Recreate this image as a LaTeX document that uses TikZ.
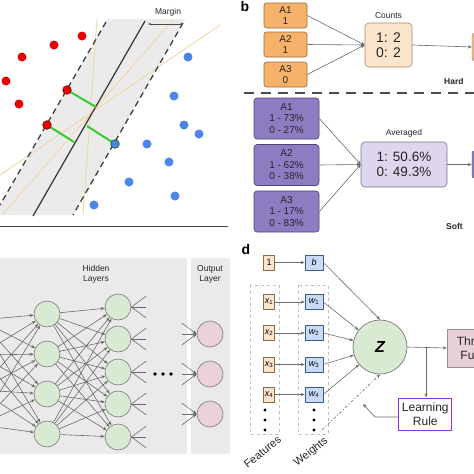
\documentclass[tikz,border=0pt]{standalone}
\usepackage{fontspec}
\setmainfont{Liberation Sans}
\usetikzlibrary{arrows.meta,calc}
\definecolor{orfill}{HTML}{F6B26B}
\definecolor{orbd}{HTML}{9C6B3C}
\definecolor{cntfill}{HTML}{FCE5CD}
\definecolor{cntbd}{HTML}{B08A66}
\definecolor{pufill}{HTML}{8E7CC3}
\definecolor{pubd}{HTML}{4F4378}
\definecolor{avfill}{HTML}{DDD6EC}
\definecolor{avbd}{HTML}{7F7596}
\definecolor{arrgray}{HTML}{6B6B6B}
\definecolor{bandgray}{HTML}{EBEBEB}
\definecolor{panelgray}{HTML}{EAEAEA}
\definecolor{hidgreen}{HTML}{D9EAD3}
\definecolor{outpink}{HTML}{EAD1DC}
\definecolor{nodegray}{HTML}{7A7A7A}
\definecolor{ffill}{HTML}{FCE5CD}
\definecolor{fbd}{HTML}{8B6A4A}
\definecolor{wfill}{HTML}{C9DAF8}
\definecolor{wbd}{HTML}{3D5A8A}
\definecolor{tffill}{HTML}{E8D0D8}
\definecolor{tfbd}{HTML}{9E8A90}
\definecolor{lrbd}{HTML}{9B30E0}
\definecolor{redpt}{HTML}{E60000}
\definecolor{bluept}{HTML}{4A86E8}
\definecolor{tanline}{HTML}{F2D8A8}
\definecolor{svgreen}{HTML}{33CC33}
\definecolor{txt}{HTML}{262626}
\tikzset{
  abox/.style={draw=orbd, fill=orfill, rounded corners=2.5pt, minimum width=43pt, minimum height=25pt, inner sep=0pt, align=center, font=\fontsize{10}{10.5}\selectfont, line width=0.6pt, text=txt},
  pbox/.style={draw=pubd, fill=pufill, rounded corners=3pt, minimum width=65pt, minimum height=41pt, inner sep=0pt, align=center, font=\fontsize{10}{11.5}\selectfont, line width=0.6pt, text=txt},
  arr/.style={draw=arrgray, line width=0.6pt, -{Stealth[length=4pt,width=3.2pt]}},
  plain/.style={draw=arrgray, line width=0.6pt},
  hid/.style={circle, draw=nodegray, fill=hidgreen, minimum size=26pt, inner sep=0pt, line width=0.6pt},
  outn/.style={circle, draw=nodegray, fill=outpink, minimum size=26pt, inner sep=0pt, line width=0.6pt},
  fbox/.style={draw=fbd, fill=ffill, minimum width=11pt, minimum height=15pt, inner sep=0pt, line width=0.6pt, font=\fontsize{9}{10}\selectfont},
  wbox/.style={draw=wbd, fill=wfill, minimum width=18pt, minimum height=15pt, inner sep=0pt, line width=0.6pt, font=\fontsize{9}{10}\selectfont},
  lbl/.style={font=\fontsize{8.5}{10}\selectfont, text=txt, align=center, inner sep=0pt},
  panel/.style={font=\bfseries\fontsize{14}{14}\selectfont, inner sep=0pt},
  reddot/.style={fill=redpt},
  bluedot/.style={fill=bluept},
}
\begin{document}
\begin{tikzpicture}[x=1pt,y=-1pt]
\useasboundingbox (0,0) rectangle (474,474);
\fill[white] (0,0) rectangle (474,474);
\begin{scope}
\clip (0,0) rectangle (474,474);
% ---------------- panel a ----------------
\fill[bandgray] (107.7,19) -- (185.3,19) -- (73,215) -- (0,215) -- (0,19) -- cycle;
\fill[white] (0,19) -- (107.7,19) -- (-5.8,215) -- (0,215) -- (0,0) -- cycle;
\draw[tanline, line width=0.9pt] (97,19) -- (83,215);
\draw[tanline, line width=0.9pt] (173,20) -- (3,214);
\draw[tanline, line width=0.9pt] (220,25) -- (0,175);
\draw[black!75, line width=1.3pt, dash pattern=on 6pt off 4pt] (106,22) -- (0,205);
\draw[black!75, line width=1.3pt, dash pattern=on 6pt off 4pt] (183,23) -- (73,215);
\draw[black!80, line width=1.2pt] (145,21) -- (33,216);
\draw[black!70, line width=0.6pt, {Stealth[length=3pt]}-{Stealth[length=3pt]}] (148,24) -- (183,24);
\node[lbl] (margin) at (168,12) {Margin};
\draw[svgreen, line width=2pt] (67,90) -- (96,107);
\draw[svgreen, line width=2pt] (47,125) -- (74,142);
\draw[svgreen, line width=2pt] (115,144) -- (87,126);
\foreach \p in {(82,36),(54,45),(22,57),(6,81),(19,104)}
  \fill[reddot] \p circle (4.5);
\foreach \p in {(67,90),(47,125)}
  \filldraw[fill=redpt, draw=red!50!black, line width=0.6pt] \p circle (4.3);
\foreach \p in {(188,57),(174,96),(184,125),(199,134),(147,144),(169,162),(129,182),(175,196),(94,205)}
  \fill[bluedot] \p circle (4.5);
\filldraw[fill=bluept, draw=green!40!black, line width=0.6pt] (115,144) circle (4.3);
\draw[black!70, line width=0.9pt] (0,226) -- (228,226);
% ---------------- panel b ----------------
\node[panel] (lb) at (245,6) {b};
\node[abox] (a1) at (285.5,15.5) {A1\\1};
\node[abox] (a2) at (285.5,44.5) {A2\\1};
\node[abox] (a3) at (285.5,74.5) {A3\\0};
\node[draw=cntbd, fill=cntfill, rounded corners=4pt, minimum width=47pt, minimum height=44pt, inner sep=0pt, align=center, font=\fontsize{14}{15}\selectfont, line width=0.6pt, text=txt] (cnt) at (388.5,45) {1: 2\\0: 2};
\node[lbl, anchor=south] (cntl) at (388.5,19) {Counts};
\draw[arr] (a1.east) -- (cnt.west);
\draw[arr] (a2.east) -- (cnt.west);
\draw[arr] (a3.east) -- (cnt.west);
\node[draw=orbd, fill=orfill!60!brown!70, rounded corners=3pt, minimum width=40pt, minimum height=28pt] (hardbox) at (492,47) {};
\draw[arr] (cnt.east) -- (hardbox.west);
\node[anchor=west, font=\bfseries\fontsize{8.5}{10}\selectfont, inner sep=0pt, text=txt] (hard) at (444,81) {Hard};
\draw[black!70, line width=1.8pt, dash pattern=on 10pt off 7pt] (244,93) -- (474,93);
\node[pbox] (p1) at (286.5,118.5) {A1\\1 - 73\%\\0 - 27\%};
\node[pbox] (p2) at (286.5,165) {A2\\1 - 62\%\\0 - 38\%};
\node[pbox] (p3) at (286.5,211.5) {A3\\1 - 17\%\\0 - 83\%};
\node[draw=avbd, fill=avfill, rounded corners=4pt, minimum width=86pt, minimum height=45pt, inner sep=0pt, align=center, font=\fontsize{13.5}{15}\selectfont, line width=0.6pt, text=txt] (avg) at (404,164.5) {1: 50.6\%\\0: 49.3\%};
\node[lbl, anchor=south] (avgl) at (404,137) {Averaged};
\draw[arr] (p1.east) -- (avg.west);
\draw[arr] (p2.east) -- (avg.west);
\draw[arr] (p3.east) -- (avg.west);
\node[draw=pubd, fill=pufill!80!gray, rounded corners=3pt, minimum width=40pt, minimum height=28pt] (softbox) at (492,164.5) {};
\draw[arr] (avg.east) -- (softbox.west);
\node[anchor=west, font=\bfseries\fontsize{8.5}{10}\selectfont, inner sep=0pt, text=txt] (soft) at (446,226) {Soft};
% ---------------- panel c ----------------
\fill[panelgray] (0,258) rectangle (187,454);
\fill[panelgray] (191,258) rectangle (230,454);
\node[lbl] (hl) at (96,274) {Hidden\\Layers};
\node[lbl] (ol) at (210,274) {Output\\Layer};
\foreach \i/\y in {1/320,2/355,3/390,4/425}
  \coordinate (in\i) at (-20,\y);
\foreach \i/\y in {1/314,2/354,3/394,4/434}
  \node[hid] (ha\i) at (47,\y) {};
\foreach \i/\y in {1/307,2/339,3/372,4/404,5/437}
  \node[hid] (hb\i) at (118,\y) {};
\foreach \i/\y in {1/334,2/374,3/414}
  \node[outn] (ou\i) at (210,\y) {};
\foreach \i in {1,...,4}
  \foreach \j in {1,...,4}
    \draw[arr] (in\i) -- (ha\j);
\foreach \i in {1,...,4}
  \foreach \j in {1,...,5}
    \draw[arr] (ha\i) -- (hb\j);
\foreach \j in {1,...,5} {
  \draw[plain] (hb\j.east) -- ++(15,-11);
  \draw[plain] (hb\j.east) -- ++(15,0);
  \draw[plain] (hb\j.east) -- ++(15,11);
}
\foreach \j in {1,...,3} {
  \draw[arr] (ou\j.west) ++(-15,-11) -- (ou\j.west);
  \draw[arr] (ou\j.west) ++(-15,0) -- (ou\j.west);
  \draw[arr] (ou\j.west) ++(-15,11) -- (ou\j.west);
}
\foreach \x in {155,163,171}
  \fill[black] (\x,374) circle (1.9);
% ---------------- panel d ----------------
\node[panel] (ld) at (246,249.5) {d};
\draw[black!25, dashed, line width=0.5pt] (250,285) rectangle (279,434);
\draw[black!25, dashed, line width=0.5pt] (298,285) rectangle (328,434);
\node[fbox] (one) at (269,262.5) {1};
\node[wbox] (bb) at (314,262.5) {\itshape b};
\foreach \i/\y in {1/302,2/333,3/364.5,4/394.5} {
  \node[fbox] (x\i) at (269,\y) {\itshape x\textsubscript{\upshape\i}};
  \node[wbox] (w\i) at (314,\y) {\itshape w\textsubscript{\upshape\i}};
}
\foreach \y in {410,420,430} {
  \fill[black] (265,\y) circle (1.7);
  \fill[black] (314,\y) circle (1.7);
}
\node[circle, draw=nodegray, fill=hidgreen, minimum size=54pt, inner sep=0pt, line width=0.7pt, font=\bfseries\itshape\fontsize{16}{16}\selectfont] (Z) at (380,347) {Z};
\draw[arr] (one.east) -- (bb.west);
\foreach \i in {1,...,4} {
  \draw[arr] (x\i.east) -- (w\i.west);
  \draw[arr] (w\i.east) -- (Z);
}
\draw[arr] (bb.east) -- (Z.north);
\node[draw=tfbd, fill=tffill, minimum width=73pt, minimum height=38pt, inner sep=0pt, align=center, font=\fontsize{12}{14}\selectfont, line width=0.6pt, text=txt] (TF) at (483.5,348) {Threshold\\Function};
\draw[arr] (Z.east) -- (TF.west);
\node[draw=lrbd, fill=white, minimum width=53pt, minimum height=32pt, inner sep=0pt, align=center, font=\fontsize{12}{14}\selectfont, line width=1pt, text=txt] (LR) at (425.3,414) {Learning\\Rule};
\coordinate (br) at (426,347);
\draw[arr] (br) -- (br |- LR.north);
\coordinate (fbk) at (375,417);
\coordinate (fbe) at (363,404);
\draw[arr] (LR.west |- fbk) -- (fbk) -- (fbe);
\coordinate (wdots) at (322,430);
\draw[arr, dash pattern=on 3pt off 2pt on 1pt off 2pt] (wdots) -- (Z.south);
\node[rotate=38, font=\fontsize{11}{12}\selectfont, text=txt, inner sep=0pt] (feat) at (262.5,452) {Features};
\node[rotate=38, font=\fontsize{11}{12}\selectfont, text=txt, inner sep=0pt] (wts) at (311,452) {Weights};
\end{scope}
\end{tikzpicture}
\end{document}
